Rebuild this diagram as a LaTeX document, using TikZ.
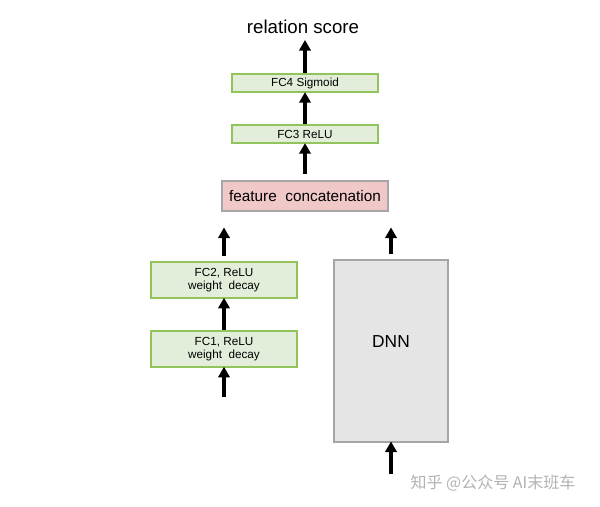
\documentclass[tikz,border=0pt]{standalone}
\usepackage{fontspec}
\setmainfont{Liberation Sans}
\newfontfamily\cjk{Noto Sans CJK SC}
\usetikzlibrary{arrows.meta,positioning}
\definecolor{fcgreen}{RGB}{146,196,92}
\definecolor{fcfill}{RGB}{226,238,218}
\definecolor{catfill}{RGB}{240,200,200}
\tikzstyle{fcnode} = [%
  rectangle,
  draw=fcgreen,
  line width=1.6pt,
  fill=fcfill,
  minimum width=109pt,
  align=center,
  inner sep=1pt,
  font=\fontsize{8.8}{9.6}\selectfont
]

\begin{document}
\begin{tikzpicture}[%
  x=0.75pt, y=-0.75pt,
  >={Triangle[width=8.5pt,length=8pt]},
  flow/.style={->,line width=2.4pt,shorten >=-1pt},
  grey/.style={draw=black!35,line width=1.6pt}
]
  \useasboundingbox (0,0) rectangle (600,507);

  % Nodes
  \node[fcnode,minimum height=14pt] (FC4) at (305,83) {FC4 Sigmoid};
  \node[fcnode,minimum height=14pt] (FC3) at (305,134) {FC3 ReLU};
  \node[grey,fill=catfill,minimum width=124pt,minimum height=22pt,font=\fontsize{11.5}{13}\selectfont] (CAT) at (305,196) {feature\ \ concatenation};
  \node[fcnode,minimum height=27pt] (FC2) at (224,280) {FC2, ReLU\\weight\ \ decay};
  \node[fcnode,minimum height=27pt] (FC1) at (224,349) {FC1, ReLU\\weight\ \ decay};
  \node[grey,fill=black!10,minimum width=86pt,minimum height=136pt,
    label={[font=\fontsize{13}{15}\selectfont,yshift=6.75pt]center:DNN}] (DNN) at (391,351) {};
  \node[font=\fontsize{14}{16}\selectfont] (OUT) at (303,27) {relation score};
  \node[font=\cjk\fontsize{12}{14}\selectfont,text=black!30] (WM) at (493,483) {知乎 @公众号 AI末班车};
  \coordinate (IN1) at (224,397);
  \coordinate (IN2) at (391,474);

  % Edges
  \draw[flow] (IN1) -- (FC1);
  \draw[flow] (FC1) -- (FC2);
  \draw[flow] ([yshift=3.75pt]FC2.north) -- ([yshift=-12.75pt]CAT.south -| FC2);
  \draw[flow] ([yshift=3.75pt]DNN.north) -- ([yshift=-12.75pt]CAT.south -| DNN);
  \draw[flow] (IN2) -- (DNN);
  \draw[flow] ([yshift=5pt]CAT.north) -- (FC3);
  \draw[flow] (FC3) -- (FC4);
  \draw[flow] (FC4) -- ([yshift=-2pt]OUT.south -| FC4);
\end{tikzpicture}
\end{document}
